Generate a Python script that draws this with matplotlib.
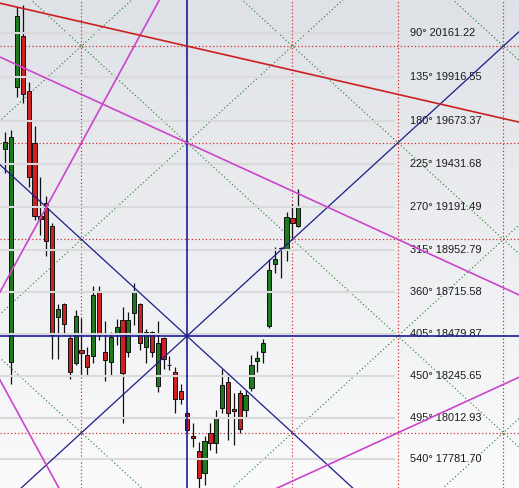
import matplotlib
matplotlib.use('Agg')
import matplotlib.pyplot as plt
import matplotlib.transforms as mtransforms
from matplotlib.patches import Rectangle
from matplotlib.colors import LinearSegmentedColormap
import numpy as np

# ---- candle data (bar index = position) ----
opens = [19515, 18325, 19861, 20146, 19839, 19548, 19141, 19213, 19085, 18577,
         18649, 18459, 18320, 18392, 18364, 18359, 18716, 18381, 18325, 18487,
         18560, 18381, 18599, 18649, 18409, 18493, 18191, 18459, 18311, 18269,
         18163, 18040, 17912, 17828, 17705, 17929, 17873, 18068, 18213, 18061,
         18152, 18057, 18180, 18331, 18381, 18526, 18873, 18951, 18951, 19130,
         19085]
highs = [19610, 19621, 20308, 20319, 19889, 19643, 19359, 19252, 19102, 18649,
         18655, 18470, 18616, 18571, 18409, 18750, 18750, 18554, 18493, 18565,
         18632, 18604, 18766, 18655, 18510, 18498, 18554, 18465, 18359, 18297,
         18202, 18051, 17984, 17878, 17912, 17984, 18057, 18286, 18264, 18152,
         18169, 18169, 18364, 18387, 18454, 18901, 18968, 18968, 19163, 19208,
         19292]
lows = [19381, 18202, 19805, 19772, 19303, 19118, 19035, 18917, 18342, 18342,
        18476, 18230, 18308, 18258, 18253, 18320, 18448, 18219, 18253, 18420,
        17984, 18353, 18532, 18392, 18320, 18353, 18158, 18286, 18281, 18040,
        18091, 17934, 17850, 17615, 17638, 17834, 17817, 18040, 17890, 17862,
        17929, 18018, 18163, 18269, 18320, 18515, 18822, 18794, 18889, 19018,
        19079]
closes = [19554, 19582, 20258, 19822, 19359, 19141, 19124, 19001, 18476, 18621,
          18537, 18269, 18582, 18375, 18297, 18699, 18487, 18336, 18465, 18521,
          18264, 18560, 18716, 18431, 18493, 18381, 18431, 18342, 18306, 18118,
          18118, 17945, 17901, 17677, 17884, 17873, 18018, 18197, 18040, 18053,
          17951, 18141, 18308, 18348, 18431, 18839, 18901, 18962, 19135, 19102,
          19191]

# ---- Gann levels (labels on the right) ----
level_degrees = [90, 135, 180, 225, 270, 315, 360, 405, 450, 495, 540]
level_prices = [20161.22, 19916.55, 19673.37, 19431.68, 19191.49, 18952.79,
                18715.58, 18479.87, 18245.65, 18012.93, 17781.70]

# ---- Gann grid definition ----
center_bar = 31
center_price = 18470
step_bars = 18
step_price = 540
# lines in grid units: v = a + b*u
magenta_lines = [(4, 2), (-4, -2), (2, -0.5), (-2, 0.5)]
red_lines = [(3, -0.25)]

fig = plt.figure(figsize=(5.19, 4.88), dpi=100)
ax = fig.add_axes([0, 0, 1, 1])
x0, x1 = -0.904, 87.66
y0, y1 = 17621.4, 20347.2
ax.set_xlim(x0, x1)
ax.set_ylim(y0, y1)
ax.axis('off')

# background gradient
grad = np.linspace(0, 1, 256).reshape(-1, 1)
cmap = LinearSegmentedColormap.from_list('bg', ['#fbfbfc', '#dee1e6'])
ax.imshow(grad, extent=[x0, x1, y0, y1], origin='lower', aspect='auto',
          cmap=cmap, zorder=0, interpolation='bilinear')

def gx(u):
    return center_bar + np.asarray(u) * step_bars

def gy(v):
    return center_price + np.asarray(v) * step_price

us = np.array([-6.0, 8.0])

# red dotted grid (horizontal + vertical) except center
for k in range(-3, 6):
    if k == 0:
        continue
    ax.axhline(gy(k), color='#d42020', lw=0.85, ls=(0, (1, 2)), zorder=1.5)
    ax.axvline(gx(k), color='#d42020', lw=0.85, ls=(0, (1, 2)), zorder=1.5)

# green dotted diagonals
for m in range(-5, 6):
    if m == 0:
        continue
    c = 2 * m
    ax.plot(gx(us), gy(c - us), color='#1e7a1e', lw=0.8, ls=(0, (1, 2.2)), zorder=1.5)
    ax.plot(gx(us), gy(us - c), color='#1e7a1e', lw=0.8, ls=(0, (1, 2.2)), zorder=1.5)

# candles
body_w = 0.72
for i, (o, h, l, c) in enumerate(zip(opens, highs, lows, closes)):
    up = c >= o
    ax.plot([i, i], [l, h], color='#111111', lw=0.9, zorder=2, solid_capstyle='butt')
    ax.add_patch(Rectangle((i - body_w / 2, min(o, c)), body_w, max(abs(c - o), 4),
                           facecolor='#1f7a1f' if up else '#cc2222',
                           edgecolor='#111111', lw=0.7, zorder=2.2))

# light gray level lines
grid_end = (395 - 5.3) / 5.86
ax.hlines(level_prices, x0, grid_end, color='#dadada', lw=1.5, zorder=2.6)

# level labels
trans = mtransforms.blended_transform_factory(ax.transAxes, ax.transData)
for d, p in zip(level_degrees, level_prices):
    ax.text(0.79, p, f"{d}\u00b0 {p:.2f}", transform=trans, va='center', ha='left',
            fontsize=7.9, family=['Liberation Sans', 'DejaVu Sans'], color='#1a1a1a',
            zorder=3)

# blue center cross + diagonals
ax.axhline(center_price, color='#1c1c9c', lw=1.2, zorder=4)
ax.axvline(center_bar, color='#1c1c9c', lw=1.2, zorder=4)
ax.plot(gx(us), gy(us), color='#1c1c8c', lw=0.9, zorder=4)
ax.plot(gx(us), gy(-us), color='#1c1c8c', lw=0.9, zorder=4)

# magenta Gann fan lines
for a, b in magenta_lines:
    ax.plot(gx(us), gy(a + b * us), color='#cc44cc', lw=1.2, zorder=4)

# red Gann line
for a, b in red_lines:
    ax.plot(gx(us), gy(a + b * us), color='#cc2020', lw=1.2, zorder=4)

fig.savefig('out.png', dpi=100)
